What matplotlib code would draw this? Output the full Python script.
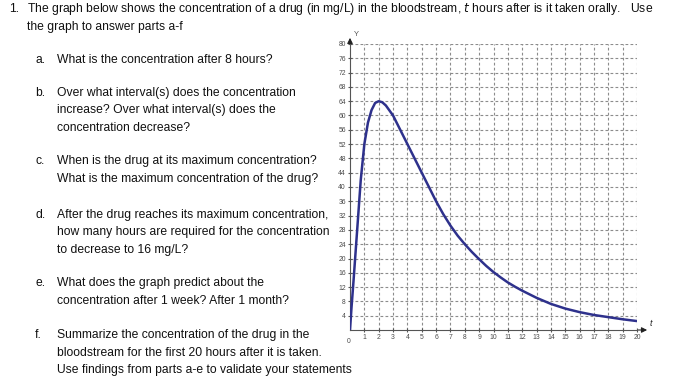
import matplotlib.pyplot as plt

# concentration (hours, mg/L)
hours = [0, 0.1, 0.25, 0.5, 0.75, 1, 1.25, 1.5, 1.75, 2, 2.25, 2.5, 3, 3.5, 4, 4.5, 5,
         5.5, 6, 6.5, 7, 7.5, 8, 8.5, 9, 9.5, 10, 10.5, 11, 11.5, 12, 13, 14, 15, 16, 17,
         18, 19, 20]
conc = [0, 6, 14, 28, 42, 52, 58, 61.5, 63.5, 64, 63.7, 62.8, 60, 56, 52, 48, 44,
        40, 36, 32.4, 29.2, 26.4, 24, 21.8, 19.8, 17.9, 16.2, 14.7, 13.3, 12.1, 11,
        9, 7.3, 6, 5, 4.2, 3.6, 3.0, 2.5]

x_ticks = list(range(1, 21))
y_ticks = list(range(4, 84, 4))

header = ["The graph below shows the concentration of a drug (in mg/L) in the bloodstream, $\\it{t}$ hours after is it taken orally.   Use",
          "the graph to answer parts a-f"]

questions = [
    ("a.", ["What is the concentration after 8 hours?"], 60),
    ("b.", ["Over what interval(s) does the concentration",
            "increase? Over what interval(s) does the",
            "concentration decrease?"], 93),
    ("c.", ["When is the drug at its maximum concentration?",
            "What is the maximum concentration of the drug?"], 161),
    ("d.", ["After the drug reaches its maximum concentration,",
            "how many hours are required for the concentration",
            "to decrease to 16 mg/L?"], 215),
    ("e.", ["What does the graph predict about the",
            "concentration after 1 week? After 1 month?"], 283),
    ("f.", ["Summarize the concentration of the drug in the",
            "bloodstream for the first 20 hours after it is taken.",
            "Use findings from parts a-e to validate your statements"], 335),
]

W, H = 700, 389


def fx(px):
    return px / W


def fy(py):
    return 1 - py / H


def main():
    plt.rcParams["font.family"] = ["Liberation Sans", "DejaVu Sans"]
    fig = plt.figure(figsize=(7, 3.89), dpi=100)
    fig.patch.set_facecolor("white")

    txt = dict(fontsize=8.7, color="#111111", va="center")

    fig.text(fx(9), fy(9), "1.", **txt)
    fig.text(fx(27), fy(9), header[0], **txt)
    fig.text(fx(27), fy(27), header[1], **txt)

    line_gap = 17.5
    for label, lines, top in questions:
        fig.text(fx(35), fy(top), label, **txt)
        for i, line in enumerate(lines):
            fig.text(fx(57), fy(top + i * line_gap), line, **txt)

    # graph area: t 0..20 -> px 350..637, C 0..80 -> py 330..44
    ax = fig.add_axes([fx(350), fy(330), (637 - 350) / W, (330 - 44) / H])
    ax.set_xlim(0, 20)
    ax.set_ylim(0, 80)

    for t in range(1, 21):
        ax.axvline(t, color="#8c8c8c", lw=0.8, ls=(0, (2.5, 2)), zorder=1)
    for c in y_ticks:
        ax.axhline(c, color="#8c8c8c", lw=0.8, ls=(0, (2.5, 2)), zorder=1)

    for side in ["top", "right"]:
        ax.spines[side].set_visible(False)
    ax.spines["left"].set_color("#555555")
    ax.spines["bottom"].set_color("#555555")

    ax.plot(hours, conc, color="#2e318c", lw=1.8, zorder=3,
            solid_joinstyle="round", solid_capstyle="round")

    ax.set_xticks(x_ticks)
    ax.set_yticks(y_ticks)
    ax.tick_params(axis="both", labelsize=4.9, labelcolor="#4a4a4a", color="#555555",
                   length=3, direction="inout", pad=1.5)

    # axis arrows and labels
    ax.annotate("", xy=(20.9, 0), xytext=(19.9, 0), annotation_clip=False,
                arrowprops=dict(arrowstyle="-|>", color="#222222", lw=0.8, mutation_scale=8))
    ax.annotate("", xy=(0, 82.5), xytext=(0, 79.5), annotation_clip=False,
                arrowprops=dict(arrowstyle="-|>", color="#222222", lw=0.8, mutation_scale=8))
    ax.text(20.9, 1.2, "t", fontsize=6.5, style="italic", color="#222222")
    ax.text(0.25, 82.3, "Y", fontsize=5.5, color="#555555")
    ax.text(-0.1, -2.2, "0", fontsize=4.9, color="#4a4a4a", ha="center", va="top")

    fig.savefig("out.png", dpi=100, facecolor="white")


if __name__ == "__main__":
    main()
